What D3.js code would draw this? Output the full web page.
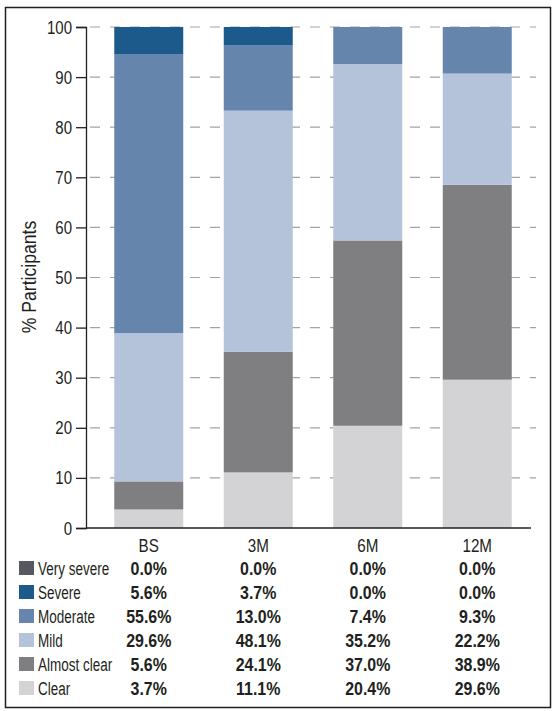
<!DOCTYPE html>
<html>
<head>
<meta charset="utf-8">
<script src="https://cdn.jsdelivr.net/npm/d3@7"></script>
<style>
  body { margin: 0; background: #fff; }
  svg text { font-family: "Liberation Sans", Arial, sans-serif; fill: #231f20; }
</style>
</head>
<body>
<svg width="556" height="711"></svg>
<script>
// Stacked severity bars by visit, with a value table below
const visits = ['BS', '3M', '6M', '12M']
const severities = ['Very severe', 'Severe', 'Moderate', 'Mild', 'Almost clear', 'Clear']
const colors = ['#55595f', '#1b5a8b', '#6585ad', '#b4c3d9', '#7f7f82', '#d3d3d5']

const verySevere = [0.0, 0.0, 0.0, 0.0]
const severe = [5.6, 3.7, 0.0, 0.0]
const moderate = [55.6, 13.0, 7.4, 9.3]
const mild = [29.6, 48.1, 35.2, 22.2]
const almostClear = [5.6, 24.1, 37.0, 38.9]
const clear = [3.7, 11.1, 20.4, 29.6]

const yTicks = [0, 10, 20, 30, 40, 50, 60, 70, 80, 90, 100]

const series = [verySevere, severe, moderate, mild, almostClear, clear]

// the original uses a condensed face; squeeze Liberation Sans to get close
// (letters are squeezed harder than digits, like in Helvetica Condensed)
function narrow(x, y, s, rot) {
	return 'translate(' + x + ',' + y + ')' + (rot ? ' rotate(' + rot + ')' : '') +
		' scale(' + s + ',1)'
}

const svg = d3.select('svg')

// outer frame
svg.append('rect')
	.attr('x', 5.5).attr('y', 7.5)
	.attr('width', 545).attr('height', 700)
	.attr('fill', 'none').attr('stroke', '#231f20').attr('stroke-width', 1.5)

var x = d3.scaleBand().domain(visits).range([94, 532])
	.paddingInner(0.37).paddingOuter(0.185)
var y = d3.scaleLinear().domain([0, 100]).range([528, 27])

// rows for d3.stack, bottom of the stack is "Clear"
var rows = visits.map(function(v, i) {
	var r = {visit: v}
	severities.forEach(function(s, j) { r[s] = series[j][i] })
	return r
})
var stack = d3.stack().keys(severities.slice().reverse())
var layers = stack(rows)

// dashed gridlines
svg.append('g').selectAll('line').data(yTicks.filter(function(t) { return t > 0 }))
	.enter().append('line')
	.attr('x1', 90).attr('x2', 536)
	.attr('y1', function(d) { return y(d) }).attr('y2', function(d) { return y(d) })
	.attr('stroke', '#a3a3a3').attr('stroke-width', 1.2)
	.attr('stroke-dasharray', '10,10')

svg.append('g').selectAll('g').data(layers)
	.enter().append('g')
	.attr('fill', function(d) { return colors[severities.indexOf(d.key)] })
	.selectAll('rect').data(function(d) { return d })
	.enter().append('rect')
	.attr('x', function(d) { return x(d.data.visit) })
	.attr('width', x.bandwidth())
	.attr('y', function(d) { return y(Math.min(d[1], 100)) })
	.attr('height', function(d) { return Math.max(0, y(d[0]) - y(Math.min(d[1], 100))) })

// axes
var yAxis = svg.append('g').attr('transform', 'translate(86,0)')
	.call(d3.axisLeft(y).tickValues(yTicks).tickSize(10).tickPadding(4))
yAxis.select('.domain').attr('stroke', '#231f20').attr('stroke-width', 1.3)
yAxis.selectAll('.tick line').attr('stroke', '#231f20').attr('stroke-width', 1.3)
yAxis.selectAll('.tick text').attr('font-size', 19)
	.attr('font-family', null).attr('fill', '#231f20')
	.attr('x', 0).attr('transform', narrow(-14, 0, 0.79))

svg.append('line')
	.attr('x1', 86).attr('x2', 531).attr('y1', y(0)).attr('y2', y(0))
	.attr('stroke', '#231f20').attr('stroke-width', 1.3)

svg.append('text')
	.attr('transform', narrow(36, 277, 0.88, -90))
	.attr('text-anchor', 'middle')
	.attr('font-size', 20)
	.text('% Participants')

// table under the bars
var rowY = d3.scaleLinear().domain([0, 5]).range([568, 688])

svg.append('g').selectAll('text').data(visits)
	.enter().append('text')
	.attr('transform', function(d) { return narrow(x(d) + x.bandwidth() / 2, 545, 0.8) })
	.attr('dy', '0.35em')
	.attr('text-anchor', 'middle').attr('font-size', 19)
	.text(function(d) { return d })

var tr = svg.append('g').selectAll('g').data(severities)
	.enter().append('g')
	.attr('transform', function(d, i) { return 'translate(0,' + rowY(i) + ')' })

tr.append('rect')
	.attr('x', 19).attr('y', -7).attr('width', 15).attr('height', 14)
	.attr('fill', function(d, i) { return colors[i] })

tr.append('text')
	.attr('transform', narrow(38, 0, 0.71))
	.attr('dy', '0.35em').attr('font-size', 19)
	.text(function(d) { return d })

tr.selectAll('text.val').data(function(d, i) { return series[i] })
	.enter().append('text')
	.attr('class', 'val')
	.attr('transform', function(d, i) { return narrow(x(visits[i]) + x.bandwidth() / 2, 0, 0.84) })
	.attr('dy', '0.35em')
	.attr('text-anchor', 'middle')
	.attr('font-size', 19).attr('font-weight', 'bold')
	.text(function(d) { return d.toFixed(1) + '%' })
</script>
</body>
</html>
